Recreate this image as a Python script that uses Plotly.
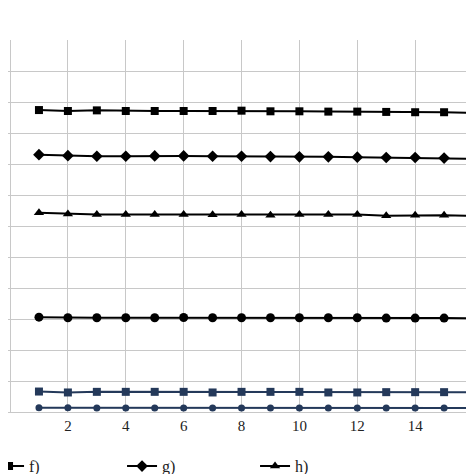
import plotly.graph_objects as go

x = list(range(1, 17))
f_vals = [9.74, 9.71, 9.73, 9.71, 9.71, 9.71, 9.71, 9.72, 9.70, 9.70, 9.69, 9.69, 9.68, 9.67, 9.67, 9.65]
g_vals = [8.30, 8.27, 8.25, 8.25, 8.26, 8.26, 8.25, 8.25, 8.24, 8.23, 8.23, 8.22, 8.21, 8.21, 8.19, 8.17]
h_vals = [6.43, 6.39, 6.37, 6.37, 6.37, 6.37, 6.36, 6.37, 6.35, 6.37, 6.37, 6.37, 6.33, 6.35, 6.35, 6.32]
i_vals = [3.06, 3.04, 3.04, 3.04, 3.04, 3.05, 3.04, 3.04, 3.04, 3.04, 3.04, 3.04, 3.03, 3.03, 3.03, 3.02]
j_vals = [0.66, 0.63, 0.65, 0.65, 0.65, 0.65, 0.63, 0.65, 0.65, 0.65, 0.63, 0.63, 0.64, 0.64, 0.64, 0.64]
k_vals = [0.14, 0.14, 0.13, 0.13, 0.13, 0.13, 0.13, 0.13, 0.13, 0.13, 0.13, 0.13, 0.13, 0.13, 0.13, 0.13]
x_ticks = [0, 2, 4, 6, 8, 10, 12, 14, 16]

series = [
    ("f)", f_vals, "square", "black", 8),
    ("g)", g_vals, "diamond", "black", 9),
    ("h)", h_vals, "triangle-up", "black", 9),
    ("i)", i_vals, "circle", "black", 9),
    ("j)", j_vals, "square", "#24395a", 8),
    ("k)", k_vals, "circle", "#24395a", 7),
]

fig = go.Figure()
for name, vals, sym, col, size in series:
    fig.add_trace(go.Scatter(
        x=x, y=vals, name=name, mode="lines+markers",
        line=dict(color=col, width=2),
        marker=dict(symbol=sym, size=size, color=col),
    ))

fig.update_layout(
    width=474, height=474,
    margin=dict(l=0, r=0, t=32, b=70, autoexpand=False),
    plot_bgcolor="white", paper_bgcolor="white",
    font=dict(family="Liberation Serif", size=15, color="#222"),
    showlegend=True,
    legend=dict(orientation="h", x=-0.04, y=-0.1, xanchor="left", yanchor="top",
                entrywidth=88, entrywidthmode="pixels", itemwidth=30,
                font=dict(size=16)),
    xaxis=dict(range=[-0.07, 16.31], tickvals=x_ticks, showgrid=True,
               gridcolor="#c8c8c8", zeroline=False, showline=True,
               linecolor="#c8c8c8", ticks="", automargin=False),
    yaxis=dict(range=[0, 12], dtick=1, showgrid=True, gridcolor="#c8c8c8",
               zeroline=False, showticklabels=False, ticks="", automargin=False),
)

fig.write_html("out.html")
